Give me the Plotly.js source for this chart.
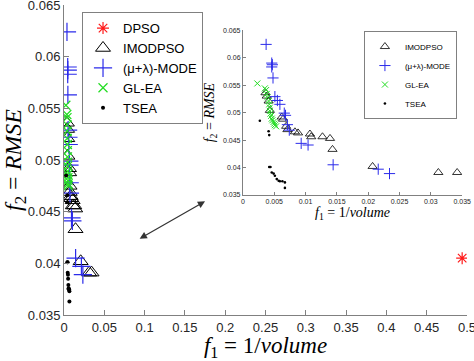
<!DOCTYPE html>
<html>
<head>
<meta charset="utf-8">
<script src="https://cdn.plot.ly/plotly-3.0.1.min.js"></script>
<style>html,body{margin:0;padding:0;background:#fff;}#chart{width:474px;height:361px;}</style>
</head>
<body>
<div id="chart"></div>
<script>
// ---- data ----
const seriesNames = ["DPSO", "IMODPSO", "(μ+λ)-MODE", "GL-EA", "TSEA"];

const dpsoX = [0.494];
const dpsoY = [0.0405];

const imodpsoX = [0.0036, 0.0038, 0.0041, 0.0043, 0.0062, 0.0064, 0.0069, 0.0071, 0.0083, 0.0088, 0.0107, 0.0109, 0.0127, 0.0139, 0.0143, 0.0207, 0.0312, 0.0342];
const imodpsoY = [0.0536, 0.0530, 0.0521, 0.0504, 0.0492, 0.0488, 0.0475, 0.0469, 0.0465, 0.0463, 0.0461, 0.0456, 0.0456, 0.0453, 0.0433, 0.0402, 0.0391, 0.0391];

const modeX = [0.0037, 0.0046, 0.0047, 0.0046, 0.0048, 0.0051, 0.0055, 0.0059, 0.0066, 0.0068, 0.0071, 0.0074, 0.0093, 0.0104, 0.0144, 0.0216, 0.0234];
const modeY = [0.0624, 0.0590, 0.0587, 0.0583, 0.0563, 0.0529, 0.0522, 0.0515, 0.0499, 0.0495, 0.0478, 0.0468, 0.0444, 0.0441, 0.0405, 0.0397, 0.0389];

const gleaX = [0.0023, 0.0035, 0.0037, 0.0038, 0.0039, 0.0041, 0.0042, 0.0043, 0.0043, 0.0044, 0.0045, 0.0046, 0.0047, 0.0049, 0.0050, 0.0051, 0.0053];
const gleaY = [0.0553, 0.0544, 0.0541, 0.0534, 0.0528, 0.0521, 0.0515, 0.0509, 0.0503, 0.0498, 0.0494, 0.0489, 0.0486, 0.0483, 0.0480, 0.0477, 0.0475];

const tseaX = [0.0027, 0.0041, 0.0042, 0.0042, 0.0044, 0.0046, 0.0049, 0.0051, 0.0054, 0.0057, 0.0059, 0.0063, 0.0067, 0.0067];
const tseaY = [0.0485, 0.0466, 0.0459, 0.0401, 0.0401, 0.0391, 0.0389, 0.0385, 0.0379, 0.0376, 0.0375, 0.0375, 0.0373, 0.0363];

const mainXTicks = [0, 0.05, 0.1, 0.15, 0.2, 0.25, 0.3, 0.35, 0.4, 0.45, 0.5];
const mainXTickText = ["0", "0.05", "0.1", "0.15", "0.2", "0.25", "0.3", "0.35", "0.4", "0.45", "0.5"];
const yTicks = [0.035, 0.04, 0.045, 0.05, 0.055, 0.06, 0.065];
const yTickText = ["0.035", "0.04", "0.045", "0.05", "0.055", "0.06", "0.065"];
const insetXTicks = [0, 0.005, 0.01, 0.015, 0.02, 0.025, 0.03, 0.035];
const insetXTickText = ["0", "0.005", "0.01", "0.015", "0.02", "0.025", "0.03", "0.035"];

// ---- styles ----
const RED = "#ff1a1a", BLUE = "#2b2bea", GREEN = "#22dd22", BLACK = "#000000";
const axisCol = "#808080", tickFontCol = "#262626";
const sans = "Liberation Sans, Arial, sans-serif";
const serif = "Liberation Serif, Times New Roman, serif";

function tr(x, y, name, symbol, color, size, width, axes, legend) {
  return {
    type: "scatter", mode: "markers", x: x, y: y, name: name,
    xaxis: axes[0], yaxis: axes[1], legend: legend, showlegend: true,
    marker: {symbol: symbol, size: size, color: color, line: {color: color, width: width}},
    hoverinfo: "x+y"
  };
}

const main = ["x", "y"], ins = ["x2", "y2"];
const data = [
  tr(dpsoX, dpsoY, seriesNames[0], "asterisk-open", RED, 10, 1.2, main, "legend"),
  tr(imodpsoX, imodpsoY, seriesNames[1], "triangle-up-open", BLACK, 13, 1, main, "legend"),
  tr(modeX, modeY, seriesNames[2], "cross-thin-open", BLUE, 13, 1.2, main, "legend"),
  tr(gleaX, gleaY, seriesNames[3], "x-thin-open", GREEN, 9, 1.2, main, "legend"),
  tr(tseaX, tseaY, seriesNames[4], "circle", BLACK, 4, 0, main, "legend"),

  tr(imodpsoX, imodpsoY, seriesNames[1], "triangle-up-open", BLACK, 8, 0.8, ins, "legend2"),
  tr(modeX, modeY, seriesNames[2], "cross-thin-open", BLUE, 8, 1, ins, "legend2"),
  tr(gleaX, gleaY, seriesNames[3], "x-thin-open", GREEN, 6, 1, ins, "legend2"),
  tr(tseaX, tseaY, seriesNames[4], "circle", BLACK, 2.6, 0, ins, "legend2")
];

const baseAxis = {
  showgrid: false, zeroline: false, showline: true, linecolor: axisCol, linewidth: 1,
  ticks: "inside", tickcolor: axisCol, mirror: false, tickmode: "array", automargin: false,
  ticklabeloverflow: "allow"
};

const layout = {
  width: 474, height: 361,
  margin: {l: 64, r: 7, t: 5, b: 46, autoexpand: false},
  paper_bgcolor: "#ffffff", plot_bgcolor: "rgba(0,0,0,0)",
  showlegend: true,
  xaxis: Object.assign({}, baseAxis, {
    domain: [0, 1], range: [0, 0.5], tickvals: mainXTicks, ticktext: mainXTickText,
    ticklen: 5, tickfont: {family: sans, size: 13, color: tickFontCol},
    title: {text: "<i>f</i><sub>1</sub> = 1/<i>volume</i>", font: {family: serif, size: 23, color: "#000"}, standoff: 4}
  }),
  yaxis: Object.assign({}, baseAxis, {
    domain: [0, 1], range: [0.035, 0.065], tickvals: yTicks, ticktext: yTickText,
    ticklen: 5, tickfont: {family: sans, size: 13, color: tickFontCol},
    title: {text: "<i>f</i><sub>2</sub> = <i>RMSE</i>", font: {family: serif, size: 24, color: "#000"}, standoff: 1}
  }),
  xaxis2: Object.assign({}, baseAxis, {
    domain: [0.444, 0.988], anchor: "y2", range: [0, 0.035], tickvals: insetXTicks, ticktext: insetXTickText,
    ticklen: 3, tickfont: {family: sans, size: 7, color: tickFontCol},
    title: {text: "<i>f</i><sub>1</sub> = 1/<i>volume</i>", font: {family: serif, size: 14, color: "#000"}, standoff: 2}
  }),
  yaxis2: Object.assign({}, baseAxis, {
    domain: [0.387, 0.919], anchor: "x2", range: [0.035, 0.065], tickvals: yTicks, ticktext: yTickText,
    ticklen: 3, tickfont: {family: sans, size: 7, color: tickFontCol},
    title: {text: "<i>f</i><sub>2</sub> = <i>RMSE</i>", font: {family: serif, size: 14, color: "#000"}, standoff: 5}
  }),
  legend: {
    x: 0.0447, y: 0.977, xanchor: "left", yanchor: "top",
    bgcolor: "#ffffff", bordercolor: axisCol, borderwidth: 1,
    font: {family: sans, size: 13, color: "#000"}, itemwidth: 30, tracegroupgap: 0
  },
  legend2: {
    x: 0.975, y: 0.916, xanchor: "right", yanchor: "top",
    bgcolor: "#ffffff", bordercolor: axisCol, borderwidth: 1,
    font: {family: sans, size: 8, color: "#000"}, itemwidth: 30, tracegroupgap: 0
  },
  annotations: [{
    xref: "x", yref: "y", axref: "x", ayref: "y",
    x: 0.175, y: 0.0460, ax: 0.092, ay: 0.0423,
    text: "", showarrow: true, arrowside: "end+start", arrowhead: 2, arrowsize: 1.2,
    arrowwidth: 1.2, arrowcolor: "#333333", standoff: 0, startstandoff: 0
  }]
};

Plotly.newPlot("chart", data, layout, {displayModeBar: false, staticPlot: true});
</script>
</body>
</html>
